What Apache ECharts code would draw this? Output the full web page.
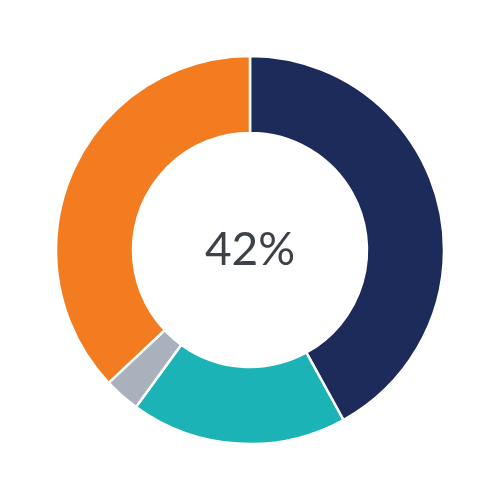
<!DOCTYPE html>
<html><head><meta charset="utf-8">
<script src="https://cdn.jsdelivr.net/npm/echarts@6/dist/echarts.min.js"></script>
<style>html,body{margin:0;padding:0;background:#fff}#c{width:500px;height:500px}</style>
</head><body><div id="c"></div>
<script>
const categories = ['Navy', 'Teal', 'Gray', 'Orange'];
const values = [42, 18, 3, 37];
const colors = ['#1c2b5a', '#1bb3b6', '#a9b1bd', '#f47c20'];
const centerLabel = '42%';
const chart = echarts.init(document.getElementById('c'));
chart.setOption({
  animation: false,
  title: {
    text: centerLabel, left: 'center', top: 222,
    textStyle: { fontFamily: 'Lato', fontWeight: 'normal', fontSize: 46, color: '#3c4248' }
  },
  series: [{
    type: 'pie',
    radius: [117, 194],
    center: [250, 250],
    startAngle: 90,
    clockwise: true,
    label: { show: false },
    labelLine: { show: false },
    itemStyle: { borderColor: '#fff', borderWidth: 2.5 },
    data: categories.map((n, i) => ({ name: n, value: values[i], itemStyle: { color: colors[i] } }))
  }]
});
</script></body></html>
